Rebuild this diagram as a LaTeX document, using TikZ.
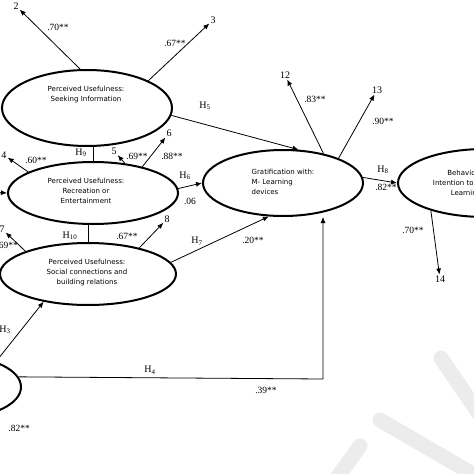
\documentclass[tikz,border=0pt]{standalone}
\usepackage{fontspec}
\setmainfont{Liberation Serif}
\newfontfamily\elfont{DejaVu Sans}
\usetikzlibrary{shapes.geometric,arrows.meta}
\tikzset{
  latent/.style={draw,ellipse,line width=2pt,inner sep=0pt},
  eltext/.style={font=\elfont\fontsize{7}{10}\selectfont,align=center,inner sep=0pt},
  num/.style={font=\fontsize{10}{10}\selectfont,inner sep=1pt},
  coef/.style={font=\fontsize{9.5}{10}\selectfont,inner sep=0pt},
  hyp/.style={font=\fontsize{10}{10}\selectfont,inner sep=0pt},
  link/.style={-{Latex[length=6pt,width=5pt]},line width=0.8pt},
}
\newcommand\hyp[1]{H\textsubscript{#1}}
\begin{document}
\begin{tikzpicture}[x=1pt,y=-1pt]
\useasboundingbox (0,0) rectangle (474,474);
\clip (0,0) rectangle (474,474);
% watermark
\draw[gray!15,line width=15pt,line cap=round] (334,482) -- (360,446)
      (380,420) -- (490,484) (441,358) -- (490,430);
% latent variables
\node[latent,minimum width=170pt,minimum height=76pt] (seek) at (87,108) {};
\node[latent,minimum width=170pt,minimum height=62pt] (recr) at (93,193) {};
\node[latent,minimum width=176pt,minimum height=62pt] (soc) at (88,274) {};
\node[latent,minimum width=120pt,minimum height=60pt] (exo) at (-39,387) {};
\node[latent,minimum width=160pt,minimum height=66pt] (grat) at (283,183) {};
\node[latent,minimum width=174pt,minimum height=68pt] (behav) at (485,183) {};
\node[eltext] (seektxt) at (86,95) {Perceived Usefulness:\\Seeking Information};
\node[eltext] (recrtxt) at (86,191) {Perceived Usefulness:\\Recreation or\\Entertainment};
\node[eltext] (soctxt) at (87,273) {Perceived Usefulness:\\Social connections and\\building relations};
\node[eltext,align=left] (grattxt) at (283,182) {Gratification with:\\M- Learning\\devices};
\node[eltext] (behavtxt) at (466,184) {Behavioral\\Intention to use M-\\Learning};
% indicators
\node[num] (n2) at (16,6) {2};
\node[num] (n3) at (213,20) {3};
\node[num] (n4) at (4,155) {4};
\node[num] (n5) at (114,151) {5};
\node[num] (n6) at (169,133) {6};
\node[num] (n7) at (2,229) {7};
\node[num] (n8) at (167,219) {8};
\node[num] (n12) at (285,75) {12};
\node[num] (n13) at (377,90) {13};
\node[num] (n14) at (440,279) {14};
\coordinate (lft1) at (-12,110);
\coordinate (lft2) at (-12,192);
\coordinate (h4c) at (323,379);
\draw[link] (seek.100) -- (n2);
\draw[link] (seek.24) -- (n3);
\draw[link] (lft1) -- (seek.west);
\draw[link] (lft2) -- (recr.west);
\draw[link] (recr.162) -- (n4);
\draw[link] (recr.43) -- (n5);
\draw[link] (recr.28) -- (n6);
\draw[link] (soc.160) -- (n7);
\draw[link] (soc.27) -- (n8);
\draw[link] (grat.36) -- (n12);
\draw[link] (grat.24) -- (n13);
\draw[link] (behav.207) -- (n14);
% paths
\draw[line width=0.8pt] (recr.north) -- (seek.south -| recr.north);
\draw[line width=0.8pt] (recr.south -| soc.north) -- (soc.north);
\draw[link] (seek.-5) -- (grat.65);
\draw[link] (recr.3) -- (grat.west);
\draw[link] (soc.8) -- (grat.247);
\draw[link] (exo.36) -- (soc.212);
\draw[link] (exo.10) -- (h4c) -- (h4c |- grat.south);
\draw[link] (grat.4) -- (behav.west);
% labels
\node[coef] (c2) at (58,27) {.70**};
\node[coef] (c3) at (175,43) {.67**};
\node[coef] (c4) at (36,160) {.60**};
\node[coef] (c5) at (137,156) {.69**};
\node[coef] (c6) at (172,156) {.88**};
\node[coef,anchor=east] (c7) at (18,245) {.69**};
\node[coef] (c8) at (127,236) {.67**};
\node[coef] (c12) at (315,99) {.83**};
\node[coef] (c13) at (383,121) {.90**};
\node[coef] (c14) at (413,230) {.70**};
\node[coef] (cg6) at (190,201) {.06};
\node[coef] (cg7) at (253,240) {.20**};
\node[coef] (cb8) at (386,187) {.82**};
\node[coef] (cg4) at (266,390) {.39**};
\node[coef,anchor=east] (cex) at (30,428) {.82**};
\node[hyp] (h5) at (205,106) {\hyp{5}};
\node[hyp] (h9) at (81,153) {\hyp{9}};
\node[hyp] (h6) at (185,176) {\hyp{6}};
\node[hyp] (h10) at (70,236) {\hyp{10}};
\node[hyp] (h7) at (197,241) {\hyp{7}};
\node[hyp] (h8) at (383,170) {\hyp{8}};
\node[hyp] (h3) at (5,330) {\hyp{3}};
\node[hyp] (h4) at (150,370) {\hyp{4}};
\end{tikzpicture}
\end{document}
